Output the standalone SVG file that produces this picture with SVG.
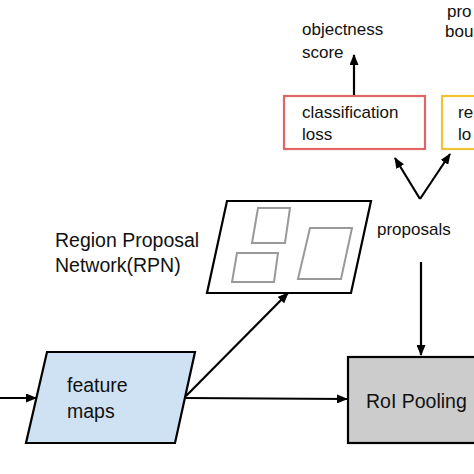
<svg xmlns="http://www.w3.org/2000/svg" width="474" height="474" viewBox="0 0 474 474">
<defs>
<marker id="ah" markerWidth="11" markerHeight="9" refX="10" refY="4.5" orient="auto" markerUnits="userSpaceOnUse">
<path d="M0,0 L11,4.5 L0,9 Z" fill="#000"/>
</marker>
<style>
text{font-family:"Liberation Sans",Arial,sans-serif;fill:#111}
.t20{font-size:19.5px}
.t17{font-size:17px}
.node{stroke:#000;stroke-width:2.2}
.inner{fill:none;stroke:#999;stroke-width:2}
.con{stroke:#000;stroke-width:2.2;fill:none;marker-end:url(#ah)}
</style>
</defs>
<rect width="474" height="474" fill="#fff"/>
<g id="connectors">
<line class="con" x1="0" y1="398" x2="36" y2="398"/>
<line class="con" x1="186" y1="398" x2="347" y2="399"/>
<line class="con" x1="186" y1="396" x2="288" y2="293"/>
<line class="con" x1="421" y1="262" x2="421" y2="355"/>
<line class="con" x1="354" y1="95" x2="354" y2="55"/>
<polyline class="con" points="420,199 395,158"/>
<polyline class="con" points="420,199 450,154"/>
</g>
<g id="feature-maps">
<polygon class="node" points="47,352 195,352 175,443 26,443" fill="#cfe2f3"/>
<text class="t20" x="67" y="392">feature</text>
<text class="t20" x="67" y="418">maps</text>
</g>
<g id="rpn">
<polygon class="node" points="227,201 371,201 351,293 207,293" fill="#fff"/>
<polygon class="inner" points="258,208 290,208 285,243 252,243"/>
<polygon class="inner" points="237,253 278,253 274,282 232,282"/>
<polygon class="inner" points="310,228 352,228 341,279 298,279"/>
</g>
<g id="rpn-label">
<text class="t20" x="55" y="247">Region Proposal</text>
<text class="t20" x="55" y="272">Network(RPN)</text>
</g>
<g id="proposals-label">
<text class="t17" x="377" y="235">proposals</text>
</g>
<g id="roi-pooling">
<rect class="node" x="348" y="357" width="140" height="86" fill="#cccccc"/>
<text class="t20" x="366" y="408">RoI Pooling</text>
</g>
<g id="classification-loss">
<rect x="284" y="96" width="141" height="53" fill="#fff" stroke="#e06666" stroke-width="2.2"/>
<text class="t17" x="302" y="118">classification</text>
<text class="t17" x="302" y="140">loss</text>
</g>
<g id="regression-loss">
<rect x="442" y="96" width="60" height="53" fill="#fff" stroke="#f1c232" stroke-width="2.2"/>
<text class="t17" x="458" y="118">re</text>
<text class="t17" x="458" y="140">lo</text>
</g>
<g id="objectness-label">
<text class="t17" x="302" y="35">objectness</text>
<text class="t17" x="302" y="58">score</text>
</g>
<g id="top-right-label">
<text class="t17" x="447" y="17">pro</text>
<text class="t17" x="445" y="37">bou</text>
</g>
</svg>
